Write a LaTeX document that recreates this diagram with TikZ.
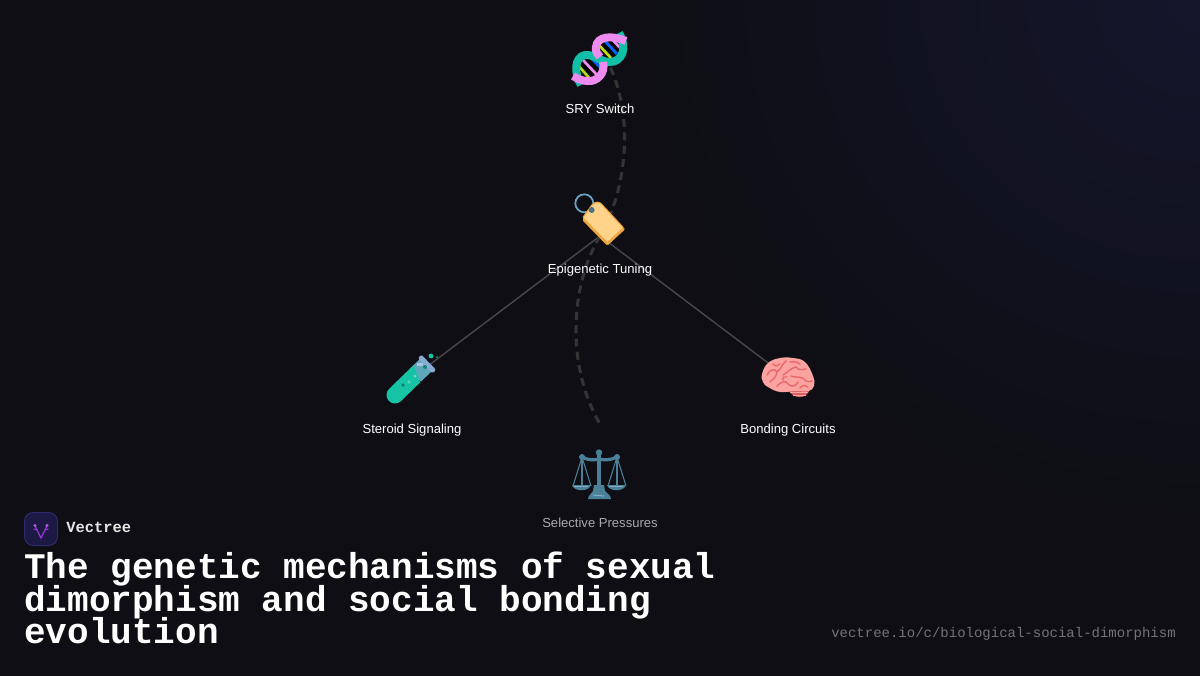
\documentclass[tikz,border=0pt]{standalone}
\usepackage{fontspec}
\setmainfont{Liberation Sans}
\newfontfamily\monof{Liberation Mono}
\newcommand\titlefnt{\monof\bfseries\fontsize{27}{24.3}\selectfont\lineskiplimit=-30pt\relax}
\definecolor{bgc}{HTML}{0E0E14}
\definecolor{glow}{HTML}{15162C}
\definecolor{edgec}{HTML}{464646}
\definecolor{dashc}{HTML}{343434}
\definecolor{dtl}{HTML}{10BFA5}
\definecolor{dpk}{HTML}{EE8BF0}
\definecolor{tagA}{HTML}{FFD48A}
\definecolor{tagB}{HTML}{F0A63C}
\definecolor{ringc}{HTML}{6AA6C4}
\definecolor{tealL}{HTML}{17C3A5}
\definecolor{glass}{HTML}{5FA8BC}
\definecolor{rimc}{HTML}{86ABD4}
\definecolor{brainA}{HTML}{FBA3A0}
\definecolor{brainB}{HTML}{E96A6C}
\definecolor{brainC}{HTML}{D95F62}
\definecolor{scA}{HTML}{4A8199}
\definecolor{scB}{HTML}{7FB0C4}
\definecolor{logoF}{HTML}{1C1A45}
\definecolor{logoE}{HTML}{2E2B6B}
\definecolor{logoV}{HTML}{9A35D8}
\tikzset{
  x=0.75pt,y=-0.75pt,
  solidedge/.style={draw=edgec,line width=1.1pt},
  dashedge/.style={draw=dashc,line width=2.3pt,dash pattern=on 6pt off 4pt},
  lab/.style={font=\fontsize{9.8}{12}\selectfont,text=white,inner sep=0pt,anchor=base},
  labdim/.style={lab,text=white!65!bgc},
  rung/.style={line width=2pt},
}
\begin{document}
\begin{tikzpicture}
\useasboundingbox (0,0) rectangle (1200,675);
\fill[bgc] (-6,-6) rectangle (1206,681);
\begin{scope}
\clip (-6,-6) rectangle (1206,681);
\shade[inner color=glow,outer color=bgc] (1200,0) ellipse [x radius=560,y radius=520];
\end{scope}
% anchors
\coordinate (sry) at (604,56);
\coordinate (epi) at (600,236);
\coordinate (ster) at (412,378);
\coordinate (bond) at (788,378);
\coordinate (selend) at (600,424);
% connectors
\draw[solidedge] (epi) -- (ster);
\draw[solidedge] (epi) -- (bond);
\draw[dashedge] (sry) .. controls (632,100) and (632,180) .. (epi);
\draw[dashedge] (epi) .. controls (568,290) and (568,370) .. (selend);
% DNA
\fill[bgc] (608,48) circle (16) (591,67) circle (16);
\begin{scope}
\clip (608,48) circle (16) (591,67) circle (16);
\draw[rung,yellow!75!green] (597,43) -- (611,58);
\draw[rung,black] (600,41) -- (614,56);
\draw[rung,blue!60!cyan] (603,39) -- (617,54);
\draw[rung,black] (606,37) -- (620,52);
\draw[rung,dpk] (609,36) -- (622,50);
\draw[rung,cyan!70!blue] (613,36) -- (625,48);
\draw[rung,yellow!70!green] (577,64) -- (591,80);
\draw[rung,black] (580,62) -- (594,77);
\draw[rung,dpk] (583,60) -- (597,75);
\draw[rung,black] (586,58) -- (600,72);
\draw[rung,blue!60!cyan] (589,56) -- (603,70);
\end{scope}
\draw[line width=6pt,dtl] (619,33) .. controls (628,48) and (622,62) .. (610,62) .. controls (600,62) and (594,54) .. (585,55) .. controls (574,57) and (574,74) .. (581,85);
\draw[line width=6pt,dpk] (626,41) .. controls (612,35) and (597,36) .. (596,47) .. controls (595,52) and (598,54) .. (600,57);
\draw[line width=6pt,dpk] (603,62) .. controls (606,74) and (596,82) .. (588,81) .. controls (582,81) and (578,79) .. (573,76);
% Tag
\draw[ringc,line width=1.3pt] (584.3,203.3) circle (9);
\filldraw[draw=tagB,line width=0.8pt,fill=tagA,line join=round,rounded corners=1.5pt] (582.3,218.3) -- (593.3,203) -- (599.3,201.7) -- (624,228.3) -- (607.3,244.3) -- cycle;
\draw[tagB,line width=2pt,line join=round,line cap=round] (623.5,229) -- (607.3,243.8) -- (584,220);
\fill[ringc!70!black] (591.7,210) circle (3);
% Tube
\begin{scope}[shift={(395,395)},x={(0.538pt,0.522pt)},y={(0.522pt,-0.538pt)}]
\fill[glass] (28,-8.5) -- (44,-8.5) -- (44,8.5) -- (28,8.5) -- cycle;
\fill[tealL] (34,-8.5) -- (0,-8.5) arc[start angle=-90,end angle=-270,radius=8.5] -- (27,8.5) -- cycle;
\fill[rimc,rounded corners=1pt] (42,-10.5) -- (47,-10.5) -- (47,10.5) -- (42,10.5) -- cycle;
\fill[rimc!70!white] (36,-6) rectangle (42,-3.5);
\end{scope}
\fill[tealL] (431,356) circle (2.4);
\fill[tealL!80!black] (437,357) circle (1);
\fill[tealL!55!white] (415,376) circle (1.3);
\fill[tealL!75!white] (409,382) circle (1.8);
\fill[tealL!65!black] (403,385) circle (1.8);
\fill[tealL!70!black] (425,367) circle (2);
% Brain
\fill[brainC] (787,388) .. controls (792,399) and (806,401) .. (810,389) -- cycle;
\begin{scope}[brainA,line width=0.5pt]
\draw (790,392.5) -- (808,392.5);
\draw (793,395.5) -- (806,395.5);
\end{scope}
\fill[brainA] plot[smooth cycle,tension=0.7] coordinates {(762,374) (768,363) (780,358) (793,358) (805,362) (813,376) (814,386) (808,391) (795,391) (780,392) (768,387) (763,382)};
\begin{scope}[brainB,line width=1.1pt,line cap=round]
\draw (767,375) .. controls (771,368) and (775,369) .. (777,372) .. controls (776,378) and (773,379) .. (770,382);
\draw (777,372) .. controls (782,368) and (782,364) .. (786,361);
\draw (783,375) .. controls (788,372) and (791,368) .. (796,367) .. controls (798,370) and (802,370) .. (806,369);
\draw (777,386) .. controls (782,381) and (786,380) .. (788,384) .. controls (792,388) and (796,386) .. (798,382);
\draw (791,376) .. controls (796,378) and (800,376) .. (804,379) .. controls (806,382) and (808,382) .. (812,381);
\draw (790,362) .. controls (794,362) and (796,361) .. (800,364);
\draw (800,388) .. controls (802,385) and (805,385) .. (808,387);
\draw (773,364) .. controls (775,367) and (778,366) .. (780,364);
\draw (783,380) .. controls (782,377) and (785,376) .. (787,377);
\end{scope}
% Scales
\begin{scope}[scA]
\draw[line width=3pt] (599,452) -- (599,490);
\fill (599,452.5) circle (3.2);
\draw[line width=2.4pt] (582,457) .. controls (590,461) and (594,460) .. (599,459) .. controls (604,460) and (608,461) .. (617,457);
\fill (582,457) circle (3);
\fill (617,457) circle (3);
\draw[line width=0.8pt] (582,457) -- (573,486);
\draw[line width=0.8pt] (582,457) -- (591,486);
\draw[line width=0.8pt] (582,457) -- (582,486);
\draw[line width=0.8pt] (617,457) -- (608,486);
\draw[line width=0.8pt] (617,457) -- (626,486);
\draw[line width=0.8pt] (617,457) -- (617,486);
\fill (572,485) -- (591,485) .. controls (589,492) and (574,492) .. (572,485) -- cycle;
\fill (607,485) -- (626,485) .. controls (624,492) and (609,492) .. (607,485) -- cycle;
\fill (594,485) -- (604,485) -- (605,491) .. controls (607,494) and (611,495) .. (611,499) -- (588,499) .. controls (588,495) and (592,494) .. (593,491) -- cycle;
\draw[scB,line width=0.6pt] (574,486) -- (588,486);
\draw[scB,line width=0.6pt] (609,486) -- (623,486);
\draw[scB,line width=0.8pt] (593,495) -- (604,496);
\end{scope}
% Labels
\node[lab] (srylab) at (600,113) {SRY Switch};
\node[lab] (epilab) at (600,273) {Epigenetic Tuning};
\node[lab] (sterlab) at (412,433) {Steroid Signaling};
\node[lab] (bondlab) at (788,433) {Bonding Circuits};
\node[labdim] (sellab) at (600,527) {Selective Pressures};
% Logo
\filldraw[draw=logoE,fill=logoF,line width=0.75pt,rounded corners=6.5pt] (24.5,512.5) rectangle (57.5,545.5);
\draw[logoV,line width=1pt,line join=round] (35,526) -- (41,538) -- (47,526);
\draw[logoV,line width=0.7pt] (33.5,529) -- (37,530);
\draw[logoV,line width=0.7pt] (48.5,529) -- (45,530);
\fill[logoV!80!white] (35,525.5) circle (1.6);
\fill[logoV!80!white] (47,525.5) circle (1.6);
\node[font=\monof\bfseries\fontsize{11.6}{14}\selectfont,text=white!90!black,inner sep=0pt,anchor=base west] (brand) at (66,532) {Vectree};
% Title
\node[font=\titlefnt,text=white,inner sep=0pt,anchor=north west,align=left] (title) at (24,552) {The genetic mechanisms of sexual\\dimorphism and social bonding\\evolution};
\node[font=\monof\fontsize{10.5}{12}\selectfont,text=white!42!bgc,inner sep=0pt,anchor=base east] (url) at (1176,637) {vectree.io/c/biological-social-dimorphism};
\end{tikzpicture}
\end{document}
